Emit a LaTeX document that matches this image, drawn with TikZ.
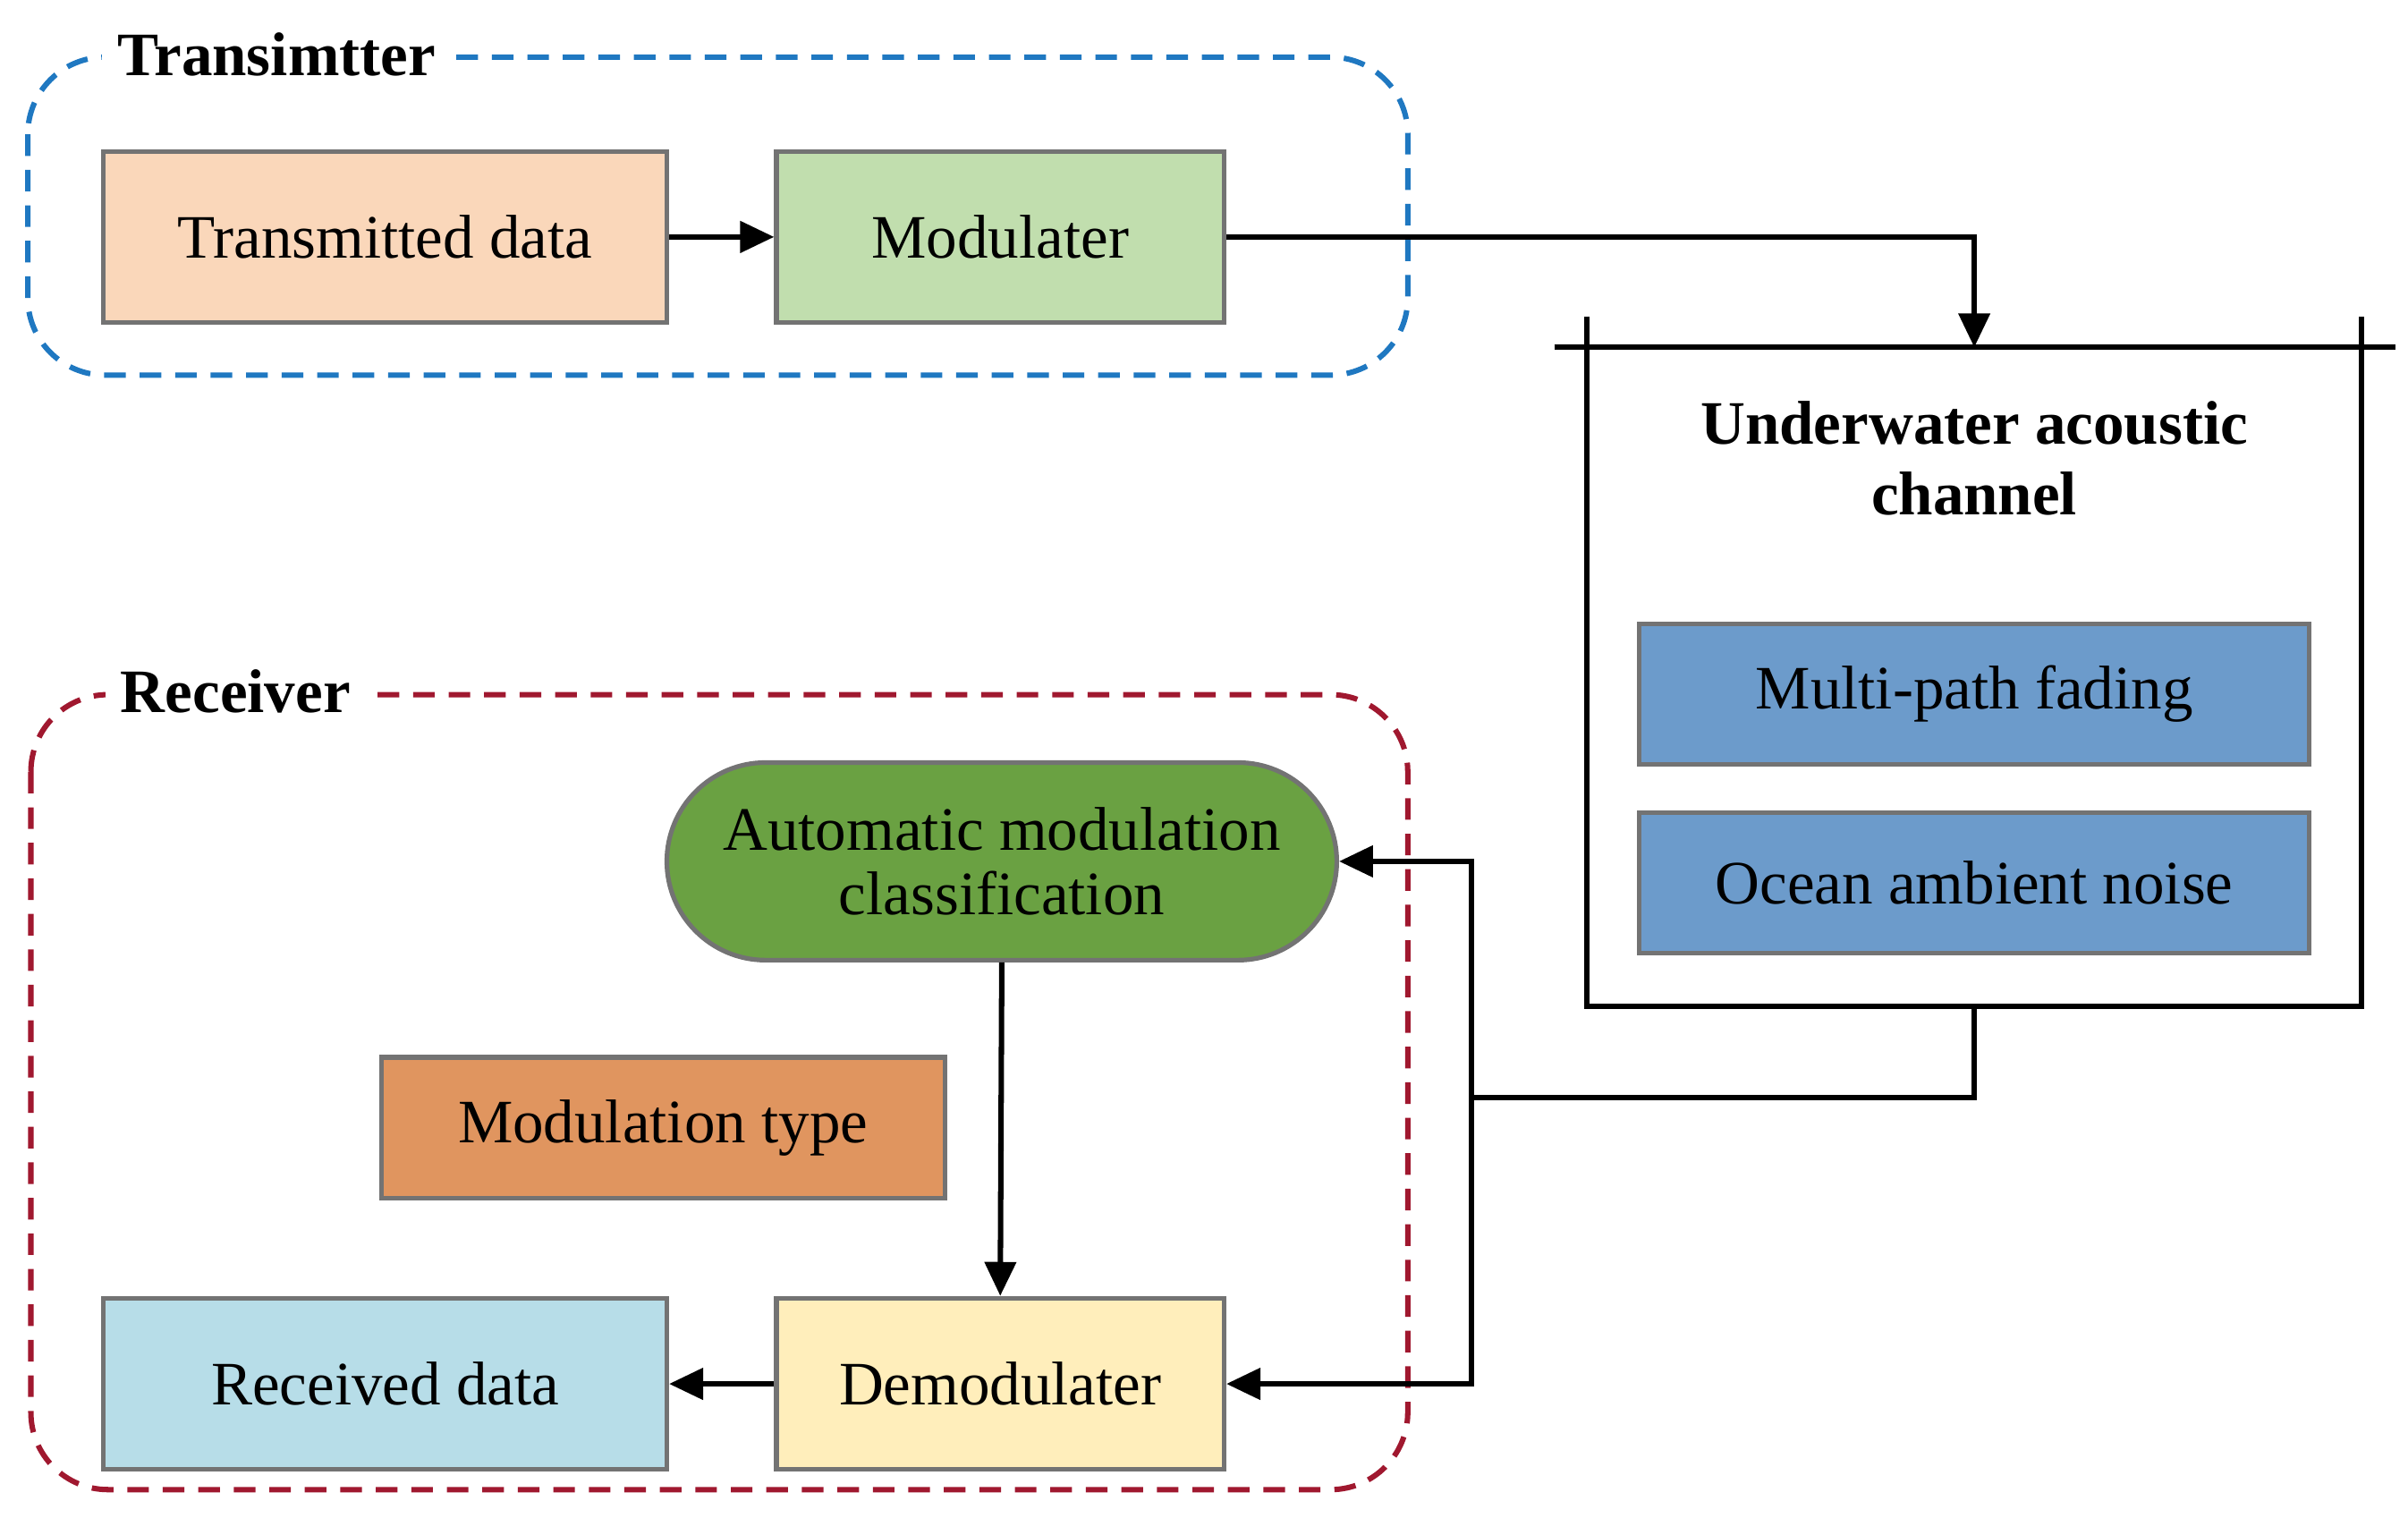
\documentclass[tikz,border=0pt]{standalone}
\usepackage{fontspec}
\setmainfont{Liberation Serif}
\usetikzlibrary{arrows.meta,shapes.misc}
\definecolor{tblue}{HTML}{1F78C1}
\definecolor{rred}{HTML}{A0182F}
\tikzset{
 box/.style={draw=gray!90!black,line width=3pt,minimum width=#1,minimum height=91pt,inner sep=0pt,font=\fontsize{40}{46}\selectfont},
 ln/.style={line width=3.5pt},
 arr/.style={ln,-{Triangle[length=22pt,width=20pt]}},
 grp/.style={line width=3.5pt,dash pattern=on 14pt off 9pt,rounded corners=50pt},
 ttl/.style={font=\fontsize{40}{46}\selectfont\bfseries,fill=white,inner xsep=10pt,inner ysep=2pt}
}
\begin{document}
\begin{tikzpicture}[x=1pt,y=-1pt]
\useasboundingbox (0,0) rectangle (1560,983);
% groups
\draw[grp,tblue] (18,37) rectangle (912,243);
\node[ttl,anchor=west] (tt) at (66,35) {Transimtter};
\draw[grp,rred] (20,450) rectangle (912,965);
\node[ttl,anchor=west] (rt) at (68,448) {Receiver};
% nodes
\node[box=365pt,minimum height=111pt,fill={rgb,255:red,250;green,215;blue,186}] (td) at (249.5,153.5) {Transmitted data};
\node[box=290pt,minimum height=111pt,fill={rgb,255:red,193;green,222;blue,174}] (mod) at (648,153.5) {Modulater};
\node[box=434pt,fill={rgb,255:red,108;green,155;blue,203}] (mp) at (1279,449.5) {Multi-path fading};
\node[box=434pt,fill={rgb,255:red,108;green,155;blue,203}] (on) at (1279,572) {Ocean ambient noise};
\node[box=434pt,minimum height=128pt,rounded rectangle,fill={rgb,255:red,106;green,161;blue,66},align=center] (amc) at (649,558) {Automatic modulation\\[-4pt]classification};
\node[box=365pt,fill={rgb,255:red,224;green,149;blue,95}] (mt) at (429.5,730.5) {Modulation type};
\node[box=365pt,minimum height=111pt,fill={rgb,255:red,183;green,221;blue,232}] (rd) at (249.5,896.5) {Received data};
\node[box=290pt,minimum height=111pt,fill={rgb,255:red,255;green,238;blue,187}] (dm) at (648,896.5) {Demodulater};
% channel
\coordinate (ct) at (1279,225);
\coordinate (cb) at (1279,652);
\draw[ln] (1007,225) -- (1552,225);
\draw[ln] (1028,205) -- (1028,652) -- (1530,652) -- (1530,205);
\node[font=\fontsize{40}{46}\selectfont\bfseries,align=center] (ch) at (1279,297) {Underwater acoustic\\channel};
% connectors
\draw[arr] (td.east) -- (mod.west);
\draw[arr] (mod.east) -| (ct);
\coordinate (j) at (953,711);
\draw[ln] (cb) |- (j);
\draw[arr] (j) |- (amc.east);
\draw[arr] (j) |- (dm.east);
\draw[arr] (amc.south) -- (dm.north);
\draw[arr] (dm.west) -- (rd.east);
\end{tikzpicture}
\end{document}
